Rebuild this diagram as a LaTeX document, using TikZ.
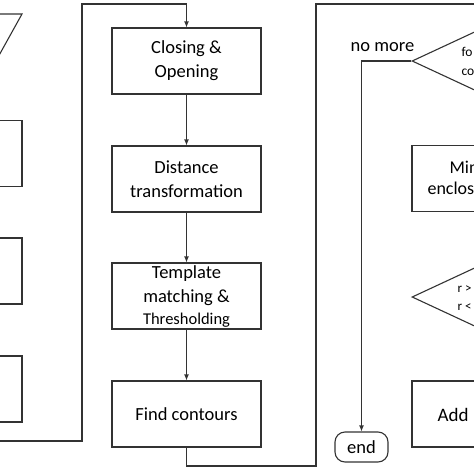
\documentclass[tikz,border=0pt]{standalone}
\usepackage{fontspec}
\setmainfont{Carlito}
\usepackage{tikz}
\usetikzlibrary{arrows.meta,shapes.geometric}

\begin{document}
\begin{tikzpicture}[x=1pt, y=-1pt, line width=1.1pt, draw=black!80,
	every node/.style={font=\fontsize{18.5}{24}\selectfont, text=black},
	>={Latex[length=6pt, width=5pt]},
	box/.style={draw=black!80, rectangle, minimum width=149, minimum height=66, inner sep=0pt, align=center},
	cond/.style={draw=black!80, diamond, minimum width=150, minimum height=70, inner sep=0pt},
	stop/.style={draw=black!80, rectangle, rounded corners=10pt, minimum width=53, minimum height=30, inner sep=0pt},
	frag/.style={anchor=base west, inner sep=0pt}]
	\useasboundingbox (0,0) rectangle (474,474);
	\clip (0,0) rectangle (474,474);
	% left column (cut off)
	\draw (-70,14) -- (22,14) -- (-8,68) -- (-100,68) -- cycle;
	\node[box] (L1) at (-52.5,153.5) {};
	\node[box] (L2) at (-52.5,271) {};
	\node[box] (L3) at (-52.5,389) {};
	% middle column
	\node[box] (C) at (186.5,61) {Closing \&\\Opening};
	\node[box] (D) at (186.5,179) {Distance\\transformation};
	\node[box] (T) at (186.5,296) {Template\\matching \&\\[-2pt]{\fontsize{16.5}{20}\selectfont Thresholding}};
	\node[box] (F) at (186.5,414) {Find contours};
	% right column (cut off)
	\node[cond] (Q1) at (487,61) {};
	\node[box] (M) at (486.5,178.5) {};
	\node[cond] (Q2) at (487,297) {};
	\node[box] (A) at (486.5,414) {};
	\node[stop] (E) at (361.5,447) {end};
	\node[frag, font=\fontsize{13.5}{15}\selectfont] (Q1a) at (461,56) {fo};
	\node[frag, font=\fontsize{13.5}{15}\selectfont] (Q1b) at (461,75) {co};
	\node[frag, font=\fontsize{18}{20}\selectfont] (Ma) at (449,173) {Min};
	\node[frag, font=\fontsize{18}{20}\selectfont] (Mb) at (427,194) {enclos};
	\node[frag, font=\fontsize{13}{15}\selectfont] (Q2a) at (457,292) {r >};
	\node[frag, font=\fontsize{13}{15}\selectfont] (Q2b) at (457,310) {r <};
	\node[frag, font=\fontsize{19}{21}\selectfont] (Aa) at (437,421) {Add};
	\node (no) at (382.5,47) {no more};
	% connectors
	\coordinate (in) at (-5,441);
	\coordinate (out) at (480,4);
	\draw[->] (in) -- (82,441) -- (82,4) -| (C.north);
	\draw[->] (C) -- (D);
	\draw[->] (D) -- (T);
	\draw[->] (T) -- (F);
	\draw (F.south) -- (186.5,466) -| (316,4) -- (out);
	\draw[->] (Q1.west) -| (E.north);
\end{tikzpicture}
\end{document}
